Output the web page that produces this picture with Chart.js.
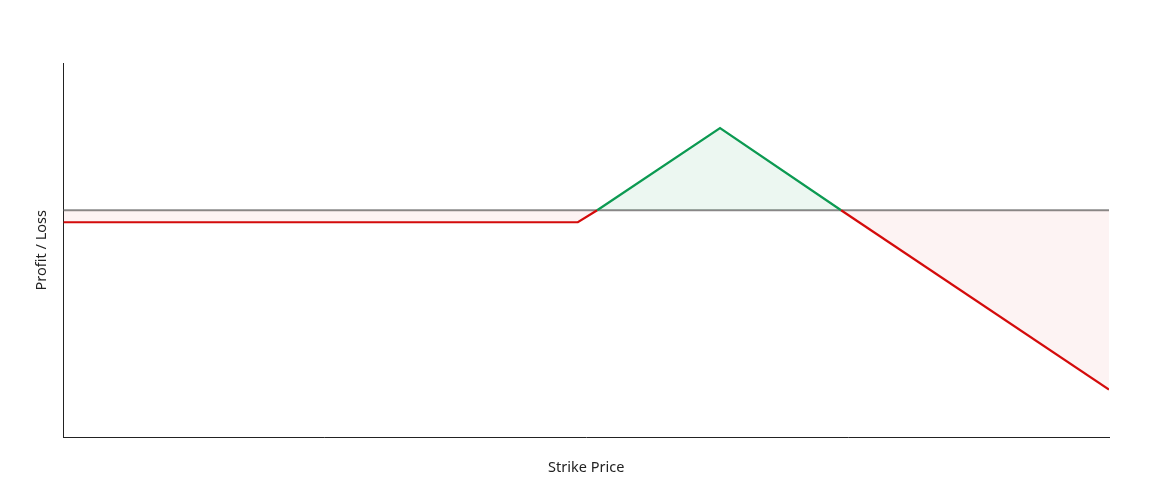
<!DOCTYPE html>
<html>
<head>
<meta charset="utf-8">
<script src="https://cdn.jsdelivr.net/npm/chart.js@4"></script>
<style>
html,body{margin:0;padding:0;background:#fff;}
#wrap{width:1163px;height:499px;}
</style>
</head>
<body>
<div id="wrap"><canvas id="c"></canvas></div>
<script>
// Payoff diagram data (strike price vs profit/loss)
const strikePrices = [0, 49.2, 51.05, 62.8, 74.38, 100];
const profitLoss   = [-1.2, -1.2, 0, 8.2, 0, -17.9];
const zeroLineX = [0, 100];
const zeroLineY = [0, 0];
const xRange = [0, 100];
const yRange = [-22.7, 14.7];
const xTitle = 'Strike Price';
const yTitle = 'Profit / Loss';

const GREEN = '#0c9a52';
const RED = '#d40b0b';

const payoff = strikePrices.map((x, i) => ({x, y: profitLoss[i]}));
const zero = zeroLineX.map((x, i) => ({x, y: zeroLineY[i]}));

new Chart(document.getElementById('c'), {
  type: 'line',
  data: {
    datasets: [
      {
        data: zero,
        borderColor: '#8a8a8a',
        borderWidth: 2,
        pointRadius: 0,
        fill: false,
        order: 1
      },
      {
        data: payoff,
        borderWidth: 2.2,
        pointRadius: 0,
        tension: 0,
        order: 0,
        borderColor: RED,
        segment: {
          borderColor: ctx => ((ctx.p0.parsed.y + ctx.p1.parsed.y) / 2 > 0 ? GREEN : RED)
        },
        fill: {
          target: {value: 0},
          above: 'rgba(12,154,82,0.08)',
          below: 'rgba(212,11,11,0.05)'
        }
      }
    ]
  },
  options: {
    responsive: true,
    maintainAspectRatio: false,
    animation: false,
    layout: {padding: {top: 63, right: 54, left: 33, bottom: 22}},
    plugins: {legend: {display: false}, tooltip: {enabled: false}},
    scales: {
      x: {
        type: 'linear',
        min: xRange[0], max: xRange[1],
        grid: {display: false},
        ticks: {display: false},
        border: {display: true, color: '#222', width: 1},
        title: {display: true, text: xTitle, color: '#222', font: {family: 'Noto Sans', size: 14.5}, padding: {top: 14, bottom: 0}}
      },
      y: {
        type: 'linear',
        min: yRange[0], max: yRange[1],
        grid: {display: false},
        ticks: {display: false},
        border: {display: true, color: '#222', width: 1},
        title: {display: true, text: yTitle, color: '#222', font: {family: 'Noto Sans', size: 14.5}, padding: {top: 0, bottom: 5}}
      }
    }
  }
});
</script>
</body>
</html>
